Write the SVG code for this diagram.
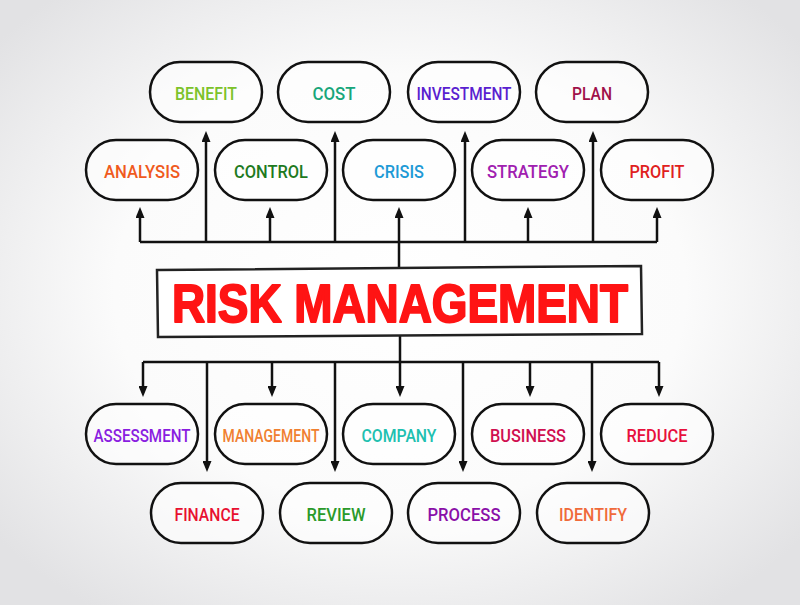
<svg xmlns="http://www.w3.org/2000/svg" width="800" height="605" viewBox="0 0 800 605">
<defs>
<radialGradient id="bg" cx="50%" cy="48%" r="65%">
<stop offset="0" stop-color="#ffffff"/>
<stop offset="0.55" stop-color="#fbfbfb"/>
<stop offset="1" stop-color="#e2e2e4"/>
</radialGradient>
<marker id="ah" markerUnits="userSpaceOnUse" markerWidth="11" markerHeight="9" refX="7" refY="4.5" orient="auto">
<path d="M0,0 L11,4.5 L0,9 Z" fill="#111"/>
</marker>
<style>
.pill{fill:#ffffff;fill-opacity:0.6;stroke:#111;stroke-width:2.5}
.lbl{font-family:Roboto,"Liberation Sans",sans-serif;font-weight:500;font-size:18px;text-anchor:middle}
.ln{fill:none;stroke:#111;stroke-width:2.5}
.ar{fill:none;stroke:#111;stroke-width:2.5;marker-end:url(#ah)}
</style>
</defs>
<rect width="800" height="605" fill="url(#bg)"/>

<g id="connectors">
<path class="ln" d="M140 242 H657"/>
<path class="ar" d="M140 242 V211"/>
<path class="ar" d="M270 242 V211"/>
<path class="ar" d="M399 268 V211"/>
<path class="ar" d="M528 242 V211"/>
<path class="ar" d="M657 242 V211"/>
<path class="ar" d="M206 242 V135"/>
<path class="ar" d="M335 242 V135"/>
<path class="ar" d="M465 242 V135"/>
<path class="ar" d="M593 242 V135"/>
<path class="ln" d="M400 336 V362"/>
<path class="ln" d="M143 362 H659"/>
<path class="ar" d="M143 362 V393"/>
<path class="ar" d="M272 362 V393"/>
<path class="ar" d="M400 362 V393"/>
<path class="ar" d="M530 362 V393"/>
<path class="ar" d="M659 362 V393"/>
<path class="ar" d="M207 362 V468"/>
<path class="ar" d="M335 362 V468"/>
<path class="ar" d="M463 362 V468"/>
<path class="ar" d="M592 362 V468"/>
</g>

<g id="title">
<polygon points="157,270 641,266 642,334 158,337" fill="#ffffff" stroke="#222" stroke-width="2.5"/>
<text x="400" y="322" text-anchor="middle" textLength="456" lengthAdjust="spacingAndGlyphs" font-family="'Liberation Sans',Arial,sans-serif" font-weight="bold" font-size="54" fill="#ff1414" stroke="#ff1414" stroke-width="2" stroke-linejoin="round">RISK MANAGEMENT</text>
</g>

<g id="benefit"><rect class="pill" x="150" y="62" width="112" height="60" rx="30"/><text class="lbl" x="206" y="100" fill="#7cc22a" textLength="62" lengthAdjust="spacingAndGlyphs">BENEFIT</text></g>
<g id="cost"><rect class="pill" x="278" y="62" width="112" height="60" rx="30"/><text class="lbl" x="334" y="100" fill="#17a67a" textLength="43" lengthAdjust="spacingAndGlyphs">COST</text></g>
<g id="investment"><rect class="pill" x="408" y="62" width="112" height="60" rx="30"/><text class="lbl" x="464" y="100" fill="#5a1fd0" textLength="95" lengthAdjust="spacingAndGlyphs">INVESTMENT</text></g>
<g id="plan"><rect class="pill" x="536" y="62" width="112" height="60" rx="30"/><text class="lbl" x="592" y="100" fill="#a0104a" textLength="40" lengthAdjust="spacingAndGlyphs">PLAN</text></g>

<g id="analysis"><rect class="pill" x="86" y="140" width="112" height="60" rx="30"/><text class="lbl" x="142" y="178" fill="#f05a1e" textLength="76" lengthAdjust="spacingAndGlyphs">ANALYSIS</text></g>
<g id="control"><rect class="pill" x="215" y="140" width="112" height="60" rx="30"/><text class="lbl" x="271" y="178" fill="#1e7a1e" textLength="74" lengthAdjust="spacingAndGlyphs">CONTROL</text></g>
<g id="crisis"><rect class="pill" x="343" y="140" width="112" height="60" rx="30"/><text class="lbl" x="399" y="178" fill="#1e9ad6" textLength="50" lengthAdjust="spacingAndGlyphs">CRISIS</text></g>
<g id="strategy"><rect class="pill" x="472" y="140" width="112" height="60" rx="30"/><text class="lbl" x="528" y="178" fill="#a020b0" textLength="82" lengthAdjust="spacingAndGlyphs">STRATEGY</text></g>
<g id="profit"><rect class="pill" x="601" y="140" width="112" height="60" rx="30"/><text class="lbl" x="657" y="178" fill="#e02020" textLength="55" lengthAdjust="spacingAndGlyphs">PROFIT</text></g>

<g id="assessment"><rect class="pill" x="86" y="404" width="112" height="60" rx="30"/><text class="lbl" x="142" y="442" fill="#8a1ee0" textLength="97" lengthAdjust="spacingAndGlyphs">ASSESSMENT</text></g>
<g id="management"><rect class="pill" x="215" y="404" width="112" height="60" rx="30"/><text class="lbl" x="271" y="442" fill="#f08030" textLength="97" lengthAdjust="spacingAndGlyphs">MANAGEMENT</text></g>
<g id="company"><rect class="pill" x="343" y="404" width="112" height="60" rx="30"/><text class="lbl" x="399" y="442" fill="#20c0b0" textLength="75" lengthAdjust="spacingAndGlyphs">COMPANY</text></g>
<g id="business"><rect class="pill" x="472" y="404" width="112" height="60" rx="30"/><text class="lbl" x="528" y="442" fill="#d01050" textLength="76" lengthAdjust="spacingAndGlyphs">BUSINESS</text></g>
<g id="reduce"><rect class="pill" x="601" y="404" width="112" height="60" rx="30"/><text class="lbl" x="657" y="442" fill="#e8103c" textLength="61" lengthAdjust="spacingAndGlyphs">REDUCE</text></g>

<g id="finance"><rect class="pill" x="151" y="483" width="112" height="60" rx="30"/><text class="lbl" x="207" y="521" fill="#e81030" textLength="65" lengthAdjust="spacingAndGlyphs">FINANCE</text></g>
<g id="review"><rect class="pill" x="280" y="483" width="112" height="60" rx="30"/><text class="lbl" x="336" y="521" fill="#2a9a2a" textLength="59" lengthAdjust="spacingAndGlyphs">REVIEW</text></g>
<g id="process"><rect class="pill" x="408" y="483" width="112" height="60" rx="30"/><text class="lbl" x="464" y="521" fill="#8a10a8" textLength="73" lengthAdjust="spacingAndGlyphs">PROCESS</text></g>
<g id="identify"><rect class="pill" x="537" y="483" width="112" height="60" rx="30"/><text class="lbl" x="593" y="521" fill="#f06a3a" textLength="68" lengthAdjust="spacingAndGlyphs">IDENTIFY</text></g>
</svg>
